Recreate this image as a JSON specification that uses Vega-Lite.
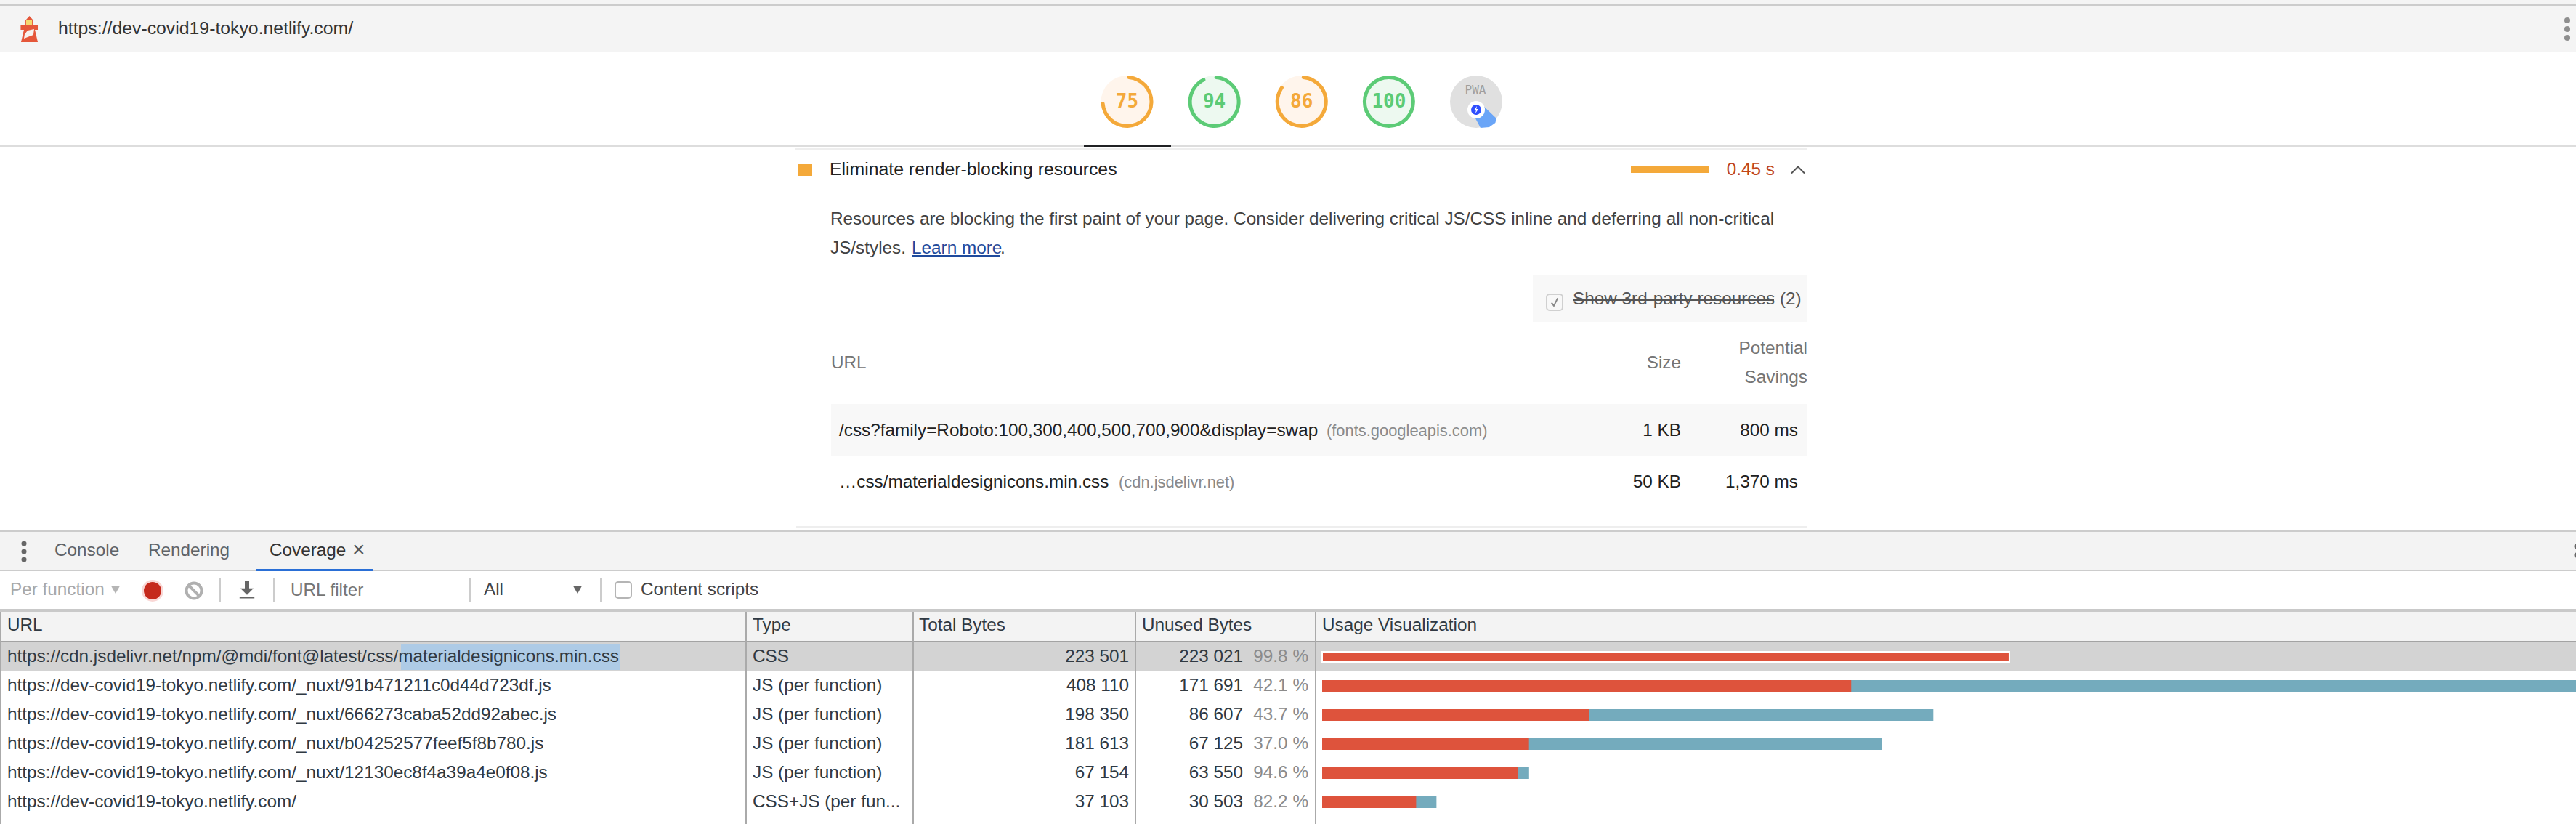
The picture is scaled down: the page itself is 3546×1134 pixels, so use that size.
{
  "$schema": "https://vega.github.io/schema/vega-lite/v6.json",
  "width": 3546,
  "height": 1134,
  "padding": 0,
  "autosize": "none",
  "background": "#ffffff",
  "config": {
    "view": {"stroke": null},
    "axis": {"disable": true},
    "legend": {"disable": true},
    "point": {"opacity": 1},
    "text": {"font": "Liberation Sans", "fontSize": 24.3, "baseline": "middle", "align": "left", "color": "#303942"}
  },
  "datasets": {
    "coverage": [
      {"url": "https://cdn.jsdelivr.net/npm/@mdi/font@latest/css/materialdesignicons.min.css", "type": "CSS", "total": 223501, "unused": 223021, "totalLabel": "223 501", "unusedLabel": "223 021", "pct": "99.8 %", "selected": true},
      {"url": "https://dev-covid19-tokyo.netlify.com/_nuxt/91b471211c0d44d723df.js", "type": "JS (per function)", "total": 408110, "unused": 171691, "totalLabel": "408 110", "unusedLabel": "171 691", "pct": "42.1 %", "selected": false},
      {"url": "https://dev-covid19-tokyo.netlify.com/_nuxt/666273caba52dd92abec.js", "type": "JS (per function)", "total": 198350, "unused": 86607, "totalLabel": "198 350", "unusedLabel": "86 607", "pct": "43.7 %", "selected": false},
      {"url": "https://dev-covid19-tokyo.netlify.com/_nuxt/b04252577feef5f8b780.js", "type": "JS (per function)", "total": 181613, "unused": 67125, "totalLabel": "181 613", "unusedLabel": "67 125", "pct": "37.0 %", "selected": false},
      {"url": "https://dev-covid19-tokyo.netlify.com/_nuxt/12130ec8f4a39a4e0f08.js", "type": "JS (per function)", "total": 67154, "unused": 63550, "totalLabel": "67 154", "unusedLabel": "63 550", "pct": "94.6 %", "selected": false},
      {"url": "https://dev-covid19-tokyo.netlify.com/", "type": "CSS+JS (per fun...", "total": 37103, "unused": 30503, "totalLabel": "37 103", "unusedLabel": "30 503", "pct": "82.2 %", "selected": false}
    ],
    "scores": [
      {"category": "Performance", "score": 75},
      {"category": "Accessibility", "score": 94},
      {"category": "Best Practices", "score": 86},
      {"category": "SEO", "score": 100},
      {"category": "PWA", "score": null}
    ],
    "audit": [
      {"url": "/css?family=Roboto:100,300,400,500,700,900&display=swap", "host": "(fonts.googleapis.com)", "size": "1 KB", "savings": "800 ms"},
      {"url": "…css/materialdesignicons.min.css", "host": "(cdn.jsdelivr.net)", "size": "50 KB", "savings": "1,370 ms"}
    ]
  },
  "resolve": {"scale": {"x": "independent", "y": "independent", "color": "independent"}},
  "layer": [
    {"data": {"values": [{"part": "top strip"}]}, "mark": {"type": "rect", "color": "#f4f4f4"}, "encoding": {"y": {"field": "part", "type": "nominal", "scale": {"range": [0, 6]}}}},
    {"data": {"values": [{"part": "top line"}]}, "mark": {"type": "rect", "color": "#cccccc"}, "encoding": {"y": {"field": "part", "type": "nominal", "scale": {"range": [6, 8]}}}},
    {"data": {"values": [{"part": "address bar"}]}, "mark": {"type": "rect", "color": "#f4f4f4"}, "encoding": {"y": {"field": "part", "type": "nominal", "scale": {"range": [8, 72]}}}},
    {"data": {"values": [{"part": "gauge line"}]}, "mark": {"type": "rect", "color": "#dddddd"}, "encoding": {"y": {"field": "part", "type": "nominal", "scale": {"range": [200, 202]}}}},
    {"data": {"values": [{"part": "active gauge"}]}, "mark": {"type": "rect", "color": "#202124"}, "encoding": {"x": {"field": "part", "type": "nominal", "scale": {"range": [1492, 1612]}}, "y": {"field": "part", "type": "nominal", "scale": {"range": [200, 202]}}}},
    {"data": {"values": [{"part": "audit top line"}]}, "mark": {"type": "rect", "color": "#eeeeee"}, "encoding": {"x": {"field": "part", "type": "nominal", "scale": {"range": [1095, 2488]}}, "y": {"field": "part", "type": "nominal", "scale": {"range": [204, 206]}}}},
    {"data": {"values": [{"part": "audit swatch"}]}, "mark": {"type": "rect", "color": "#f4a93a"}, "encoding": {"x": {"field": "part", "type": "nominal", "scale": {"range": [1099, 1118]}}, "y": {"field": "part", "type": "nominal", "scale": {"range": [226, 242]}}}},
    {"data": {"values": [{"part": "audit bar"}]}, "mark": {"type": "rect", "color": "#f4a93a"}, "encoding": {"x": {"field": "part", "type": "nominal", "scale": {"range": [2245, 2352]}}, "y": {"field": "part", "type": "nominal", "scale": {"range": [228, 238]}}}},
    {"data": {"values": [{"part": "third party panel"}]}, "mark": {"type": "rect", "color": "#f8f8f8"}, "encoding": {"x": {"field": "part", "type": "nominal", "scale": {"range": [2110, 2488]}}, "y": {"field": "part", "type": "nominal", "scale": {"range": [378, 443]}}}},
    {"data": {"values": [{"part": "third party box"}]}, "mark": {"type": "rect", "fill": "#f8f8f8", "stroke": "#d0d0d0", "strokeWidth": 2, "cornerRadius": 4}, "encoding": {"x": {"field": "part", "type": "nominal", "scale": {"range": [2129, 2151]}}, "y": {"field": "part", "type": "nominal", "scale": {"range": [405, 427]}}}},
    {"data": {"values": [{"part": "third party check"}]}, "mark": {"type": "point", "shape": "M-0.6,0.1L-0.15,0.7L0.6,-0.8", "filled": false, "size": 196, "stroke": "#888888", "strokeWidth": 2}, "encoding": {"x": {"field": "part", "type": "nominal", "scale": {"range": [2140, 2140]}}, "y": {"field": "part", "type": "nominal", "scale": {"range": [416, 416]}}}},
    {"data": {"values": [{"part": "audit highlight"}]}, "mark": {"type": "rect", "color": "#f8f8f8"}, "encoding": {"x": {"field": "part", "type": "nominal", "scale": {"range": [1144, 2488]}}, "y": {"field": "part", "type": "nominal", "scale": {"range": [556, 628]}}}},
    {"data": {"values": [{"part": "audit bottom line"}]}, "mark": {"type": "rect", "color": "#eeeeee"}, "encoding": {"x": {"field": "part", "type": "nominal", "scale": {"range": [1096, 2488]}}, "y": {"field": "part", "type": "nominal", "scale": {"range": [724, 726]}}}},
    {"data": {"values": [{"part": "drawer line"}]}, "mark": {"type": "rect", "color": "#cccccc"}, "encoding": {"y": {"field": "part", "type": "nominal", "scale": {"range": [730, 732]}}}},
    {"data": {"values": [{"part": "drawer tabs"}]}, "mark": {"type": "rect", "color": "#f3f3f3"}, "encoding": {"y": {"field": "part", "type": "nominal", "scale": {"range": [732, 784]}}}},
    {"data": {"values": [{"part": "drawer tabs line"}]}, "mark": {"type": "rect", "color": "#cccccc"}, "encoding": {"y": {"field": "part", "type": "nominal", "scale": {"range": [784, 786]}}}},
    {"data": {"values": [{"part": "active tab"}]}, "mark": {"type": "rect", "color": "#2a6fd6"}, "encoding": {"x": {"field": "part", "type": "nominal", "scale": {"range": [352, 514]}}, "y": {"field": "part", "type": "nominal", "scale": {"range": [783, 786]}}}},
    {"data": {"values": [{"part": "table top line"}]}, "mark": {"type": "rect", "color": "#c9c9c9"}, "encoding": {"y": {"field": "part", "type": "nominal", "scale": {"range": [838, 842]}}}},
    {"data": {"values": [{"part": "table header"}]}, "mark": {"type": "rect", "color": "#f3f3f3"}, "encoding": {"y": {"field": "part", "type": "nominal", "scale": {"range": [842, 882]}}}},
    {"data": {"values": [{"part": "table header line"}]}, "mark": {"type": "rect", "color": "#a3a3a3"}, "encoding": {"y": {"field": "part", "type": "nominal", "scale": {"range": [882, 884]}}}},

    {
      "data": {"name": "coverage"},
      "encoding": {"y": {"field": "url", "type": "nominal", "sort": null, "scale": {"type": "band", "range": [884, 1124], "paddingInner": 0, "paddingOuter": 0}}},
      "resolve": {"scale": {"x": "independent"}},
      "layer": [
        {"transform": [{"filter": "datum.selected"}], "mark": {"type": "rect", "color": "#d3d3d3"}},
        {"transform": [{"filter": "datum.selected"}], "mark": {"type": "rect", "color": "#aecbe6", "height": 36}, "encoding": {"x": {"datum": "selected text", "type": "nominal", "scale": {"type": "band", "range": [552, 854]}}}},
        {"mark": {"type": "text"}, "encoding": {"text": {"field": "url"}, "x": {"datum": "URL", "type": "nominal", "scale": {"range": [10, 10]}}}},
        {"mark": {"type": "text"}, "encoding": {"text": {"field": "type"}, "x": {"datum": "Type", "type": "nominal", "scale": {"range": [1036, 1036]}}}},
        {"mark": {"type": "text", "align": "right"}, "encoding": {"text": {"field": "totalLabel"}, "x": {"datum": "Total Bytes", "type": "nominal", "scale": {"range": [1554, 1554]}}}},
        {"mark": {"type": "text", "align": "right"}, "encoding": {"text": {"field": "unusedLabel"}, "x": {"datum": "Unused Bytes", "type": "nominal", "scale": {"range": [1711, 1711]}}}},
        {"mark": {"type": "text", "align": "right", "color": "#8b8b8b"}, "encoding": {"text": {"field": "pct"}, "x": {"datum": "Percent", "type": "nominal", "scale": {"range": [1801, 1801]}}}},
        {
          "encoding": {"x": {"type": "quantitative", "scale": {"domain": [0, 408110], "range": [1820, 3551]}}},
          "resolve": {"scale": {"x": "shared"}},
          "layer": [
            {"transform": [{"filter": "!datum.selected"}], "mark": {"type": "bar", "size": 16, "color": "#74abbd"}, "encoding": {"x": {"field": "total", "type": "quantitative", "scale": {"domain": [0, 408110], "range": [1820, 3551]}}}},
            {"transform": [{"filter": "!datum.selected"}], "mark": {"type": "bar", "size": 16, "color": "#de533c"}, "encoding": {"x": {"field": "unused", "type": "quantitative", "scale": {"domain": [0, 408110], "range": [1820, 3551]}}}},
            {"transform": [{"filter": "datum.selected"}], "mark": {"type": "bar", "size": 14, "color": "#de533c", "stroke": "#ffffff", "strokeWidth": 2}, "encoding": {"x": {"field": "unused", "type": "quantitative", "scale": {"domain": [0, 408110], "range": [1820, 3551]}}}}
          ]
        }
      ]
    },

    {"data": {"values": [{"part": "left edge"}]}, "mark": {"type": "rect", "color": "#aaaaaa"}, "encoding": {"x": {"field": "part", "type": "nominal", "scale": {"range": [0, 2]}}, "y": {"field": "part", "type": "nominal", "scale": {"range": [842, 1134]}}}},
    {"data": {"values": [{"part": "URL edge"}]}, "mark": {"type": "rect", "color": "#aaaaaa"}, "encoding": {"x": {"field": "part", "type": "nominal", "scale": {"range": [1026, 1028]}}, "y": {"field": "part", "type": "nominal", "scale": {"range": [842, 1134]}}}},
    {"data": {"values": [{"part": "Type edge"}]}, "mark": {"type": "rect", "color": "#aaaaaa"}, "encoding": {"x": {"field": "part", "type": "nominal", "scale": {"range": [1256, 1258]}}, "y": {"field": "part", "type": "nominal", "scale": {"range": [842, 1134]}}}},
    {"data": {"values": [{"part": "Total edge"}]}, "mark": {"type": "rect", "color": "#aaaaaa"}, "encoding": {"x": {"field": "part", "type": "nominal", "scale": {"range": [1562, 1564]}}, "y": {"field": "part", "type": "nominal", "scale": {"range": [842, 1134]}}}},
    {"data": {"values": [{"part": "Unused edge"}]}, "mark": {"type": "rect", "color": "#aaaaaa"}, "encoding": {"x": {"field": "part", "type": "nominal", "scale": {"range": [1810, 1812]}}, "y": {"field": "part", "type": "nominal", "scale": {"range": [842, 1134]}}}},

    {"data": {"values": [{"label": "URL"}]}, "mark": {"type": "text"}, "encoding": {"text": {"field": "label"}, "x": {"field": "label", "type": "nominal", "scale": {"range": [10, 10]}}, "y": {"field": "label", "type": "nominal", "scale": {"range": [861, 861]}}}},
    {"data": {"values": [{"label": "Type"}]}, "mark": {"type": "text"}, "encoding": {"text": {"field": "label"}, "x": {"field": "label", "type": "nominal", "scale": {"range": [1036, 1036]}}, "y": {"field": "label", "type": "nominal", "scale": {"range": [861, 861]}}}},
    {"data": {"values": [{"label": "Total Bytes"}]}, "mark": {"type": "text"}, "encoding": {"text": {"field": "label"}, "x": {"field": "label", "type": "nominal", "scale": {"range": [1265, 1265]}}, "y": {"field": "label", "type": "nominal", "scale": {"range": [861, 861]}}}},
    {"data": {"values": [{"label": "Unused Bytes"}]}, "mark": {"type": "text"}, "encoding": {"text": {"field": "label"}, "x": {"field": "label", "type": "nominal", "scale": {"range": [1572, 1572]}}, "y": {"field": "label", "type": "nominal", "scale": {"range": [861, 861]}}}},
    {"data": {"values": [{"label": "Usage Visualization"}]}, "mark": {"type": "text"}, "encoding": {"text": {"field": "label"}, "x": {"field": "label", "type": "nominal", "scale": {"range": [1820, 1820]}}, "y": {"field": "label", "type": "nominal", "scale": {"range": [861, 861]}}}},

    {
      "data": {"name": "scores"},
      "transform": [{"filter": {"field": "score", "valid": true}}],
      "encoding": {
        "x": {"field": "category", "type": "nominal", "sort": null, "scale": {"type": "point", "domain": ["Performance", "Accessibility", "Best Practices", "SEO", "PWA"], "range": [1551.5, 2032], "padding": 0}},
        "y": {"datum": "gauges", "type": "nominal", "scale": {"type": "point", "range": [140, 140]}}
      },
      "resolve": {"scale": {"color": "independent"}},
      "layer": [
        {"mark": {"type": "point", "filled": true, "shape": "circle", "size": 5184}, "encoding": {"color": {"field": "score", "type": "quantitative", "scale": {"type": "threshold", "domain": [90], "range": ["#fff5ec", "#edf9f0"]}}}},
        {
          "mark": {"type": "arc", "radius": 36, "radius2": 31, "cornerRadius": 3},
          "encoding": {
            "theta": {"field": "score", "type": "quantitative", "stack": false, "scale": {"domain": [0, 100], "range": [0, 6.2832]}},
            "theta2": {"datum": 0},
            "color": {"field": "score", "type": "quantitative", "scale": {"type": "threshold", "domain": [90], "range": ["#f4a93a", "#5ccb76"]}}
          }
        },
        {
          "mark": {"type": "text", "align": "center", "font": "DejaVu Sans Mono", "fontSize": 26, "fontWeight": "bold"},
          "encoding": {
            "text": {"field": "score", "type": "quantitative"},
            "color": {"field": "score", "type": "quantitative", "scale": {"type": "threshold", "domain": [90], "range": ["#f4a93a", "#5ccb76"]}}
          }
        }
      ]
    },

    {"data": {"values": [{"part": "PWA disc"}]}, "mark": {"type": "point", "filled": true, "shape": "circle", "size": 5184, "color": "#e0e0e0"}, "encoding": {"x": {"field": "part", "type": "nominal", "scale": {"range": [2032, 2032]}}, "y": {"field": "part", "type": "nominal", "scale": {"range": [140, 140]}}}},
    {"data": {"values": [{"part": "PWA wedge"}]}, "mark": {"type": "point", "filled": true, "shape": "M0.25,-0.25L0.93,0.4L0.88,0.6L0.6,0.8L0.2,0.83L-0.07,0.33Z", "size": 3600, "color": "#6aa5f7"}, "encoding": {"x": {"field": "part", "type": "nominal", "scale": {"range": [2032, 2032]}}, "y": {"field": "part", "type": "nominal", "scale": {"range": [151, 151]}}}},
    {"data": {"values": [{"part": "PWA badge"}]}, "mark": {"type": "point", "filled": true, "shape": "circle", "size": 576, "color": "#ffffff"}, "encoding": {"x": {"field": "part", "type": "nominal", "scale": {"range": [2032, 2032]}}, "y": {"field": "part", "type": "nominal", "scale": {"range": [151, 151]}}}},
    {"data": {"values": [{"part": "PWA badge core"}]}, "mark": {"type": "point", "filled": true, "shape": "circle", "size": 196, "color": "#304ffe"}, "encoding": {"x": {"field": "part", "type": "nominal", "scale": {"range": [2032, 2032]}}, "y": {"field": "part", "type": "nominal", "scale": {"range": [151, 151]}}}},
    {"data": {"values": [{"part": "PWA bolt"}]}, "mark": {"type": "point", "filled": true, "shape": "M0.2,-1L-0.6,0.2L-0.05,0.2L-0.2,1L0.6,-0.2L0.05,-0.2Z", "size": 100, "color": "#ffffff"}, "encoding": {"x": {"field": "part", "type": "nominal", "scale": {"range": [2032, 2032]}}, "y": {"field": "part", "type": "nominal", "scale": {"range": [151, 151]}}}},
    {"data": {"values": [{"label": "PWA"}]}, "mark": {"type": "text", "align": "center", "font": "DejaVu Sans Mono", "fontSize": 16, "color": "#9e9e9e"}, "encoding": {"text": {"field": "label"}, "x": {"field": "label", "type": "nominal", "scale": {"range": [2031, 2031]}}, "y": {"field": "label", "type": "nominal", "scale": {"range": [124, 124]}}}},

    {"data": {"values": [{"part": "lighthouse tower"}]}, "mark": {"type": "point", "filled": true, "shape": "M0,-1L0.3,-0.67L0.3,-0.28L0.64,-0.28L0.64,0.05L0.42,0.05L0.64,1L-0.64,1L-0.42,0.05L-0.67,0.05L-0.67,-0.28L-0.3,-0.28L-0.3,-0.67Z", "size": 1296, "color": "#e5573a"}, "encoding": {"x": {"field": "part", "type": "nominal", "scale": {"range": [40.5, 40.5]}}, "y": {"field": "part", "type": "nominal", "scale": {"range": [40, 40]}}}},
    {"data": {"values": [{"part": "lighthouse lantern"}]}, "mark": {"type": "point", "filled": true, "shape": "M-0.25,-0.67L0.2,-0.67L0.2,-0.28L-0.25,-0.28Z", "size": 1296, "color": "#f5d76e"}, "encoding": {"x": {"field": "part", "type": "nominal", "scale": {"range": [40.5, 40.5]}}, "y": {"field": "part", "type": "nominal", "scale": {"range": [40, 40]}}}},
    {"data": {"values": [{"part": "lighthouse window"}]}, "mark": {"type": "point", "filled": true, "shape": "M-0.14,0.11L0.36,0L0.3,0.44L-0.42,0.72L-0.36,0.39Z", "size": 1296, "color": "#f7f2ee"}, "encoding": {"x": {"field": "part", "type": "nominal", "scale": {"range": [40.5, 40.5]}}, "y": {"field": "part", "type": "nominal", "scale": {"range": [40, 40]}}}},

    {"data": {"values": [{"dot": "a"}, {"dot": "b"}, {"dot": "c"}]}, "mark": {"type": "point", "filled": true, "shape": "circle", "size": 64, "color": "#8e8e8e"}, "encoding": {"x": {"datum": "report menu", "type": "nominal", "scale": {"range": [3534, 3534]}}, "y": {"field": "dot", "type": "nominal", "scale": {"type": "point", "padding": 0, "range": [28, 52]}}}},
    {"data": {"values": [{"dot": "a"}, {"dot": "b"}, {"dot": "c"}]}, "mark": {"type": "point", "filled": true, "shape": "circle", "size": 49, "color": "#666666"}, "encoding": {"x": {"datum": "drawer menu", "type": "nominal", "scale": {"range": [33, 33]}}, "y": {"field": "dot", "type": "nominal", "scale": {"type": "point", "padding": 0, "range": [748, 770]}}}},
    {"data": {"values": [{"dot": "a"}, {"dot": "b"}]}, "mark": {"type": "point", "filled": true, "shape": "circle", "size": 49, "color": "#666666"}, "encoding": {"x": {"datum": "drawer close", "type": "nominal", "scale": {"range": [3547, 3547]}}, "y": {"field": "dot", "type": "nominal", "scale": {"type": "point", "padding": 0, "range": [752, 764]}}}},

    {"data": {"values": [{"label": "https://dev-covid19-tokyo.netlify.com/"}]}, "mark": {"type": "text", "color": "#333333", "fontSize": 24.8}, "encoding": {"text": {"field": "label"}, "x": {"field": "label", "type": "nominal", "scale": {"range": [80, 80]}}, "y": {"field": "label", "type": "nominal", "scale": {"range": [40, 40]}}}},
    {"data": {"values": [{"label": "Eliminate render-blocking resources"}]}, "mark": {"type": "text", "color": "#212121", "fontSize": 24.8}, "encoding": {"text": {"field": "label"}, "x": {"field": "label", "type": "nominal", "scale": {"range": [1142, 1142]}}, "y": {"field": "label", "type": "nominal", "scale": {"range": [234, 234]}}}},
    {"data": {"values": [{"label": "0.45 s"}]}, "mark": {"type": "text", "align": "right", "color": "#c0461c"}, "encoding": {"text": {"field": "label"}, "x": {"field": "label", "type": "nominal", "scale": {"range": [2443, 2443]}}, "y": {"field": "label", "type": "nominal", "scale": {"range": [234, 234]}}}},
    {"data": {"values": [{"part": "audit chevron"}]}, "mark": {"type": "point", "filled": false, "shape": "M-1,0.5L0,-0.5L1,0.5", "size": 324, "stroke": "#555555", "strokeWidth": 2}, "encoding": {"x": {"field": "part", "type": "nominal", "scale": {"range": [2475, 2475]}}, "y": {"field": "part", "type": "nominal", "scale": {"range": [234, 234]}}}},
    {"data": {"values": [{"label": "Resources are blocking the first paint of your page. Consider delivering critical JS/CSS inline and deferring all non-critical"}]}, "mark": {"type": "text", "color": "#424242"}, "encoding": {"text": {"field": "label"}, "x": {"field": "label", "type": "nominal", "scale": {"range": [1143, 1143]}}, "y": {"field": "label", "type": "nominal", "scale": {"range": [302, 302]}}}},
    {"data": {"values": [{"label": "JS/styles."}]}, "mark": {"type": "text", "color": "#424242"}, "encoding": {"text": {"field": "label"}, "x": {"field": "label", "type": "nominal", "scale": {"range": [1143, 1143]}}, "y": {"field": "label", "type": "nominal", "scale": {"range": [342, 342]}}}},
    {"data": {"values": [{"label": "Learn more"}]}, "mark": {"type": "text", "color": "#1f4a9c"}, "encoding": {"text": {"field": "label"}, "x": {"field": "label", "type": "nominal", "scale": {"range": [1255, 1255]}}, "y": {"field": "label", "type": "nominal", "scale": {"range": [342, 342]}}}},
    {"data": {"values": [{"part": "link underline"}]}, "mark": {"type": "rect", "color": "#1f4a9c"}, "encoding": {"x": {"field": "part", "type": "nominal", "scale": {"range": [1255, 1377]}}, "y": {"field": "part", "type": "nominal", "scale": {"range": [351, 353]}}}},
    {"data": {"values": [{"label": "."}]}, "mark": {"type": "text", "color": "#424242"}, "encoding": {"text": {"field": "label"}, "x": {"field": "label", "type": "nominal", "scale": {"range": [1377, 1377]}}, "y": {"field": "label", "type": "nominal", "scale": {"range": [342, 342]}}}},
    {"data": {"values": [{"label": "Show 3rd-party resources (2)"}]}, "mark": {"type": "text", "color": "#555555"}, "encoding": {"text": {"field": "label"}, "x": {"field": "label", "type": "nominal", "scale": {"range": [2165, 2165]}}, "y": {"field": "label", "type": "nominal", "scale": {"range": [412, 412]}}}},
    {"data": {"values": [{"part": "strike through"}]}, "mark": {"type": "rect", "color": "#555555"}, "encoding": {"x": {"field": "part", "type": "nominal", "scale": {"range": [2165, 2442]}}, "y": {"field": "part", "type": "nominal", "scale": {"range": [412, 414]}}}},
    {"data": {"values": [{"label": "URL"}]}, "mark": {"type": "text", "color": "#757575"}, "encoding": {"text": {"field": "label"}, "x": {"field": "label", "type": "nominal", "scale": {"range": [1144, 1144]}}, "y": {"field": "label", "type": "nominal", "scale": {"range": [500, 500]}}}},
    {"data": {"values": [{"label": "Size"}]}, "mark": {"type": "text", "align": "right", "color": "#757575"}, "encoding": {"text": {"field": "label"}, "x": {"field": "label", "type": "nominal", "scale": {"range": [2314, 2314]}}, "y": {"field": "label", "type": "nominal", "scale": {"range": [500, 500]}}}},
    {"data": {"values": [{"label": "Potential"}, {"label": "Savings"}]}, "mark": {"type": "text", "align": "right", "color": "#757575"}, "encoding": {"text": {"field": "label"}, "x": {"datum": "savings header", "type": "nominal", "scale": {"range": [2488, 2488]}}, "y": {"field": "label", "type": "nominal", "sort": null, "scale": {"type": "point", "padding": 0, "range": [480, 520]}}}},

    {
      "data": {"name": "audit"},
      "encoding": {"y": {"field": "url", "type": "nominal", "sort": null, "scale": {"type": "point", "padding": 0, "range": [593, 664]}}},
      "resolve": {"scale": {"x": "independent"}},
      "layer": [
        {"mark": {"type": "text", "color": "#212121"}, "encoding": {"text": {"field": "url"}, "x": {"datum": "url", "type": "nominal", "scale": {"range": [1155, 1155]}}}},
        {"mark": {"type": "text", "fontSize": 21.9, "color": "#8a8a8a"}, "encoding": {"text": {"field": "host"}, "x": {"field": "host", "type": "nominal", "sort": null, "scale": {"type": "point", "padding": 0, "range": [1826, 1540]}}}},
        {"mark": {"type": "text", "align": "right", "color": "#212121"}, "encoding": {"text": {"field": "size"}, "x": {"datum": "size", "type": "nominal", "scale": {"range": [2314, 2314]}}}},
        {"mark": {"type": "text", "align": "right", "color": "#212121"}, "encoding": {"text": {"field": "savings"}, "x": {"datum": "savings", "type": "nominal", "scale": {"range": [2475, 2475]}}}}
      ]
    },

    {"data": {"values": [{"label": "Console"}]}, "mark": {"type": "text", "color": "#5f6368"}, "encoding": {"text": {"field": "label"}, "x": {"field": "label", "type": "nominal", "scale": {"range": [75, 75]}}, "y": {"field": "label", "type": "nominal", "scale": {"range": [758, 758]}}}},
    {"data": {"values": [{"label": "Rendering"}]}, "mark": {"type": "text", "color": "#5f6368"}, "encoding": {"text": {"field": "label"}, "x": {"field": "label", "type": "nominal", "scale": {"range": [204, 204]}}, "y": {"field": "label", "type": "nominal", "scale": {"range": [758, 758]}}}},
    {"data": {"values": [{"label": "Coverage"}]}, "mark": {"type": "text", "color": "#333333"}, "encoding": {"text": {"field": "label"}, "x": {"field": "label", "type": "nominal", "scale": {"range": [371, 371]}}, "y": {"field": "label", "type": "nominal", "scale": {"range": [758, 758]}}}},
    {"data": {"values": [{"label": "×"}]}, "mark": {"type": "text", "color": "#555555", "fontSize": 30}, "encoding": {"text": {"field": "label"}, "x": {"field": "label", "type": "nominal", "scale": {"range": [485, 485]}}, "y": {"field": "label", "type": "nominal", "scale": {"range": [757, 757]}}}},
    {"data": {"values": [{"label": "Per function"}]}, "mark": {"type": "text", "color": "#a8a8a8"}, "encoding": {"text": {"field": "label"}, "x": {"field": "label", "type": "nominal", "scale": {"range": [14, 14]}}, "y": {"field": "label", "type": "nominal", "scale": {"range": [812, 812]}}}},
    {"data": {"values": [{"part": "mode arrow"}]}, "mark": {"type": "point", "filled": true, "shape": "triangle-down", "size": 130, "color": "#b5b5b5"}, "encoding": {"x": {"field": "part", "type": "nominal", "scale": {"range": [159, 159]}}, "y": {"field": "part", "type": "nominal", "scale": {"range": [812, 812]}}}},
    {"data": {"values": [{"part": "record glow"}]}, "mark": {"type": "point", "filled": true, "shape": "circle", "size": 900, "color": "#e0362c", "opacity": 0.2}, "encoding": {"x": {"field": "part", "type": "nominal", "scale": {"range": [210, 210]}}, "y": {"field": "part", "type": "nominal", "scale": {"range": [813, 813]}}}},
    {"data": {"values": [{"part": "record"}]}, "mark": {"type": "point", "filled": true, "shape": "circle", "size": 576, "color": "#c5291c"}, "encoding": {"x": {"field": "part", "type": "nominal", "scale": {"range": [210, 210]}}, "y": {"field": "part", "type": "nominal", "scale": {"range": [813, 813]}}}},
    {"data": {"values": [{"part": "clear"}]}, "mark": {"type": "point", "filled": false, "shape": "M-1,0A1,1 0 1,1 1,0A1,1 0 1,1 -1,0M-0.7,-0.7L0.7,0.7", "size": 441, "stroke": "#b0b0b0", "strokeWidth": 4}, "encoding": {"x": {"field": "part", "type": "nominal", "scale": {"range": [267, 267]}}, "y": {"field": "part", "type": "nominal", "scale": {"range": [813, 813]}}}},
    {"data": {"values": [{"part": "download"}]}, "mark": {"type": "point", "filled": true, "shape": "M-0.25,-1L0.25,-1L0.25,-0.1L0.75,-0.1L0,0.65L-0.75,-0.1L-0.25,-0.1ZM-0.85,0.85L0.85,0.85L0.85,1.05L-0.85,1.05Z", "size": 576, "color": "#666666"}, "encoding": {"x": {"field": "part", "type": "nominal", "scale": {"range": [340, 340]}}, "y": {"field": "part", "type": "nominal", "scale": {"range": [811, 811]}}}},
    {"data": {"values": [{"part": "sep a"}]}, "mark": {"type": "rect", "color": "#cccccc"}, "encoding": {"x": {"field": "part", "type": "nominal", "scale": {"range": [302, 304]}}, "y": {"field": "part", "type": "nominal", "scale": {"range": [796, 828]}}}},
    {"data": {"values": [{"part": "sep b"}]}, "mark": {"type": "rect", "color": "#cccccc"}, "encoding": {"x": {"field": "part", "type": "nominal", "scale": {"range": [376, 378]}}, "y": {"field": "part", "type": "nominal", "scale": {"range": [796, 828]}}}},
    {"data": {"values": [{"part": "sep c"}]}, "mark": {"type": "rect", "color": "#cccccc"}, "encoding": {"x": {"field": "part", "type": "nominal", "scale": {"range": [646, 648]}}, "y": {"field": "part", "type": "nominal", "scale": {"range": [796, 828]}}}},
    {"data": {"values": [{"part": "sep d"}]}, "mark": {"type": "rect", "color": "#cccccc"}, "encoding": {"x": {"field": "part", "type": "nominal", "scale": {"range": [826, 828]}}, "y": {"field": "part", "type": "nominal", "scale": {"range": [796, 828]}}}},
    {"data": {"values": [{"label": "URL filter"}]}, "mark": {"type": "text", "color": "#757575"}, "encoding": {"text": {"field": "label"}, "x": {"field": "label", "type": "nominal", "scale": {"range": [400, 400]}}, "y": {"field": "label", "type": "nominal", "scale": {"range": [813, 813]}}}},
    {"data": {"values": [{"label": "All"}]}, "mark": {"type": "text", "color": "#444444"}, "encoding": {"text": {"field": "label"}, "x": {"field": "label", "type": "nominal", "scale": {"range": [666, 666]}}, "y": {"field": "label", "type": "nominal", "scale": {"range": [812, 812]}}}},
    {"data": {"values": [{"part": "type arrow"}]}, "mark": {"type": "point", "filled": true, "shape": "triangle-down", "size": 130, "color": "#666666"}, "encoding": {"x": {"field": "part", "type": "nominal", "scale": {"range": [795, 795]}}, "y": {"field": "part", "type": "nominal", "scale": {"range": [812, 812]}}}},
    {"data": {"values": [{"part": "content box"}]}, "mark": {"type": "rect", "fill": "#ffffff", "stroke": "#b5b5b5", "strokeWidth": 2, "cornerRadius": 4}, "encoding": {"x": {"field": "part", "type": "nominal", "scale": {"range": [847, 869]}}, "y": {"field": "part", "type": "nominal", "scale": {"range": [801, 823]}}}},
    {"data": {"values": [{"label": "Content scripts"}]}, "mark": {"type": "text", "color": "#444444"}, "encoding": {"text": {"field": "label"}, "x": {"field": "label", "type": "nominal", "scale": {"range": [882, 882]}}, "y": {"field": "label", "type": "nominal", "scale": {"range": [812, 812]}}}}
  ]
}
